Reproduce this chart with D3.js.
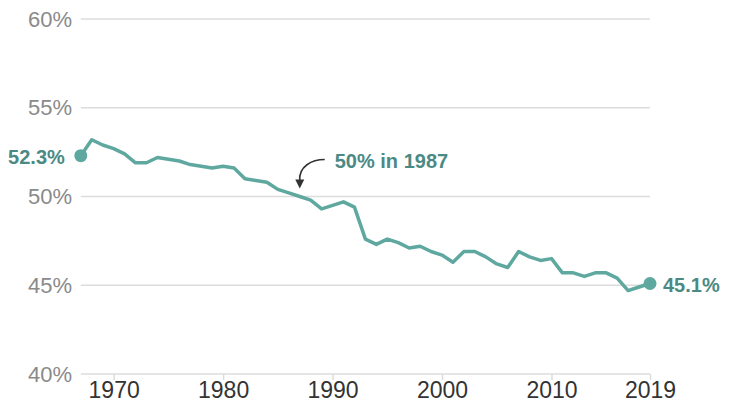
<!DOCTYPE html>
<html><head><meta charset="utf-8">
<script src="https://cdn.jsdelivr.net/npm/d3@7"></script>
<style>
html,body{margin:0;padding:0;background:#fff;}
svg{display:block;}
</style></head>
<body>
<svg id="chart" width="734" height="420"></svg>
<script>
const years = d3.range(1967, 2020);
const shares = [52.3,53.2,52.9,52.7,52.4,51.9,51.9,52.2,52.1,52.0,51.8,51.7,51.6,51.7,51.6,51.0,50.9,50.8,50.4,50.2,50.0,49.8,49.3,49.5,49.7,49.4,47.6,47.3,47.6,47.4,47.1,47.2,46.9,46.7,46.3,46.9,46.9,46.6,46.2,46.0,46.9,46.6,46.4,46.5,45.7,45.7,45.5,45.7,45.7,45.4,44.7,44.9,45.1];
const yTicks = [40,45,50,55,60];
const xTicks = [1970,1980,1990,2000,2010,2019];
const annotationText = "50% in 1987";

const data = years.map((y,i)=>({year:y, value:shares[i]}));
const svg = d3.select("#chart");
const x = d3.scaleLinear().domain([1967,2019]).range([80.8,650]);
const y = d3.scaleLinear().domain([40,60]).range([374,19]);
const teal = "#5fa8a0", tealText = "#4b8a84";
const font = "'Liberation Sans', Arial, sans-serif";

// gridlines
svg.append("g").selectAll("line").data(yTicks).join("line")
  .attr("x1", x(1967)).attr("x2", x(2019))
  .attr("y1", d=>y(d)).attr("y2", d=>y(d))
  .attr("stroke", "#dcdcdc").attr("stroke-width", 1.5);

// y labels
svg.append("g").selectAll("text").data(yTicks).join("text")
  .attr("x", 72).attr("y", d=>y(d)).attr("dy","0.35em")
  .attr("text-anchor","end").attr("font-family",font).attr("font-size",22)
  .attr("fill","#8a8a8a").text(d=>d+"%");

// x axis ticks
const xAxis = d3.axisBottom(x).tickValues(xTicks).tickFormat(d3.format("d")).tickSize(6).tickPadding(2);
const gx = svg.append("g").attr("transform",`translate(0,${y(40)})`).call(xAxis);
gx.select(".domain").remove();
gx.selectAll(".tick line").attr("stroke","#dcdcdc").attr("stroke-width",1.5);
gx.selectAll(".tick text").attr("font-family",font).attr("font-size",23).attr("fill","#333");

// line
const line = d3.line().x(d=>x(d.year)).y(d=>y(d.value));
svg.append("path").datum(data).attr("d",line).attr("fill","none")
  .attr("stroke",teal).attr("stroke-width",3.5).attr("stroke-linejoin","round");

// end points
const ends = [data[0], data[data.length-1]];
svg.append("g").selectAll("circle").data(ends).join("circle")
  .attr("cx",d=>x(d.year)).attr("cy",d=>y(d.value)).attr("r",6.5).attr("fill",teal);

svg.append("text").attr("x", x(ends[0].year)-16).attr("y", y(ends[0].value)+8.5)
  .attr("text-anchor","end").attr("font-family",font).attr("font-weight","bold")
  .attr("font-size",20).attr("fill",tealText).text(ends[0].value.toFixed(1)+"%");
svg.append("text").attr("x", x(ends[1].year)+13).attr("y", y(ends[1].value)+8.5)
  .attr("text-anchor","start").attr("font-family",font).attr("font-weight","bold")
  .attr("font-size",20).attr("fill",tealText).text(ends[1].value.toFixed(1)+"%");

// annotation
const ax = x(1987), ay = y(50);
svg.append("text").attr("x", ax+35).attr("y", ay-29)
  .attr("font-family",font).attr("font-weight","bold").attr("font-size",20)
  .attr("fill",tealText).text(annotationText);
svg.append("path")
  .attr("d",`M${ax+25},${ay-37} C${ax+12},${ay-37} ${ax-1},${ay-30} ${ax},${ay-16}`)
  .attr("fill","none").attr("stroke","#333").attr("stroke-width",1.6);
svg.append("path")
  .attr("d",`M${ax-4.5},${ay-17} L${ax+4.5},${ay-17} L${ax},${ay-8} Z`)
  .attr("fill","#333");
</script>
</body></html>
